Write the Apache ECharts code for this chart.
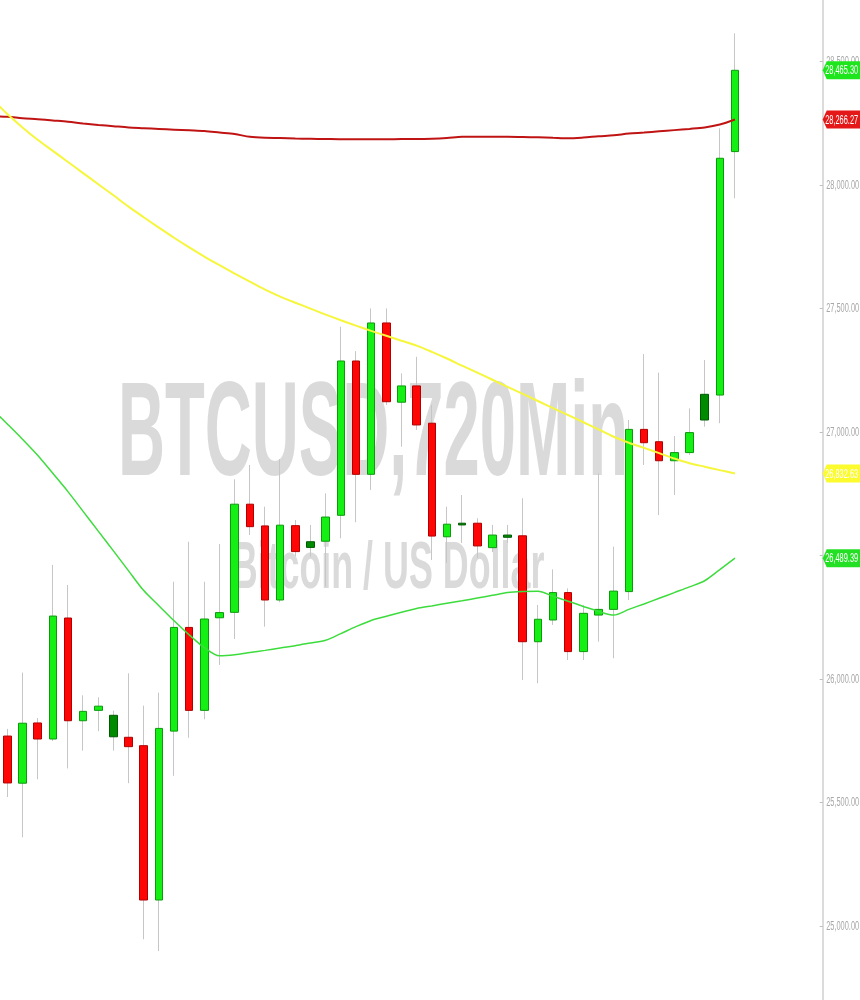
<!DOCTYPE html>
<html><head><meta charset="utf-8">
<script src="https://cdn.jsdelivr.net/npm/echarts@6/dist/echarts.min.js"></script>
<style>html,body{margin:0;padding:0;background:#fff}#c{width:860px;height:1000px}</style>
</head><body><div id="c"></div>
<script>
// ---- data (720-minute BTCUSD candles, left to right) ----
const opens  = [25769, 25578, 25822, 25757, 26247, 25831, 25873, 25853, 25764, 25730,
  25105, 25789, 26209, 25873, 26248, 26270, 26708, 26620, 26320, 26621,
  26533, 26558, 26663, 27288, 26829, 27442, 27121, 27187, 27036, 26576,
  26624, 26631, 26532, 26574, 26580, 26151, 26239, 26350, 26111, 26259,
  26282, 26354, 27011, 26961, 26884, 26917, 27049, 27150, 28136];
const closes = [25579, 25821, 25757, 26255, 25831, 25869, 25890, 25766, 25726, 25105,
  25800, 26209, 25873, 26243, 26269, 26708, 26617, 26320, 26623, 26516,
  26556, 26656, 27288, 26829, 27442, 27123, 27187, 27029, 26579, 26627,
  26631, 26539, 26583, 26583, 26151, 26242, 26350, 26111, 26266, 26282,
  26356, 27011, 26957, 26884, 26917, 26998, 27153, 28109, 28465.30];
const lows   = [25522, 25359, 25594, 25749, 25638, 25710, 25789, 25710, 25578, 24946,
  24898, 25608, 25762, 25837, 26057, 26162, 26583, 26212, 26311, 26498,
  26495, 26374, 26570, 26635, 26766, 27110, 26941, 27009, 26482, 26470,
  26551, 26490, 26514, 26551, 25996, 25983, 26219, 26077, 26077, 26151,
  26084, 26320, 26867, 26664, 26745, 26907, 27022, 27036, 27947];
const highs  = [25798, 26026, 25842, 26462, 26381, 25934, 25926, 25872, 26023, 25892,
  25945, 26394, 26556, 26394, 26547, 26809, 26867, 26698, 26891, 26644,
  26624, 26752, 27427, 27328, 27501, 27501, 27238, 27305, 27110, 26698,
  26745, 26651, 26624, 26624, 26732, 26300, 26444, 26367, 26300, 26833,
  26536, 27049, 27316, 27241, 26984, 27096, 27292, 28230, 28615];
// candles drawn in the darker shade
const darkCandles = [7, 20, 30, 33, 46];
// moving averages: first value belongs to the bar just left of the view
const maRed = [28279, 28277, 28271, 28267, 28262, 28257, 28250, 28244, 28239, 28234,
  28231, 28228, 28225, 28222, 28219, 28213, 28207, 28196, 28192, 28191,
  28189, 28188, 28187, 28186, 28186, 28186, 28186, 28187, 28187, 28188,
  28191, 28196, 28196, 28196, 28196, 28195, 28194, 28192, 28190, 28193,
  28198, 28202, 28209, 28213, 28218, 28223, 28228, 28234, 28246, 28266.27];
const maYellow = [28349, 28288, 28234, 28184, 28139, 28094, 28049, 28004, 27959, 27913,
  27870, 27828, 27787, 27748, 27711, 27676, 27642, 27609, 27577, 27549,
  27524, 27500, 27476, 27453, 27431, 27410, 27390, 27370, 27350, 27325,
  27298, 27269, 27241, 27212, 27183, 27155, 27126, 27097, 27069, 27040,
  27011, 26981, 26957, 26936, 26915, 26893, 26874, 26860, 26846, 26832.63];
const maGreen = [27094, 27033, 26971, 26906, 26833, 26759, 26679, 26599, 26519, 26438,
  26358, 26297, 26236, 26179, 26127, 26094, 26098, 26107, 26116, 26126,
  26135, 26146, 26157, 26184, 26212, 26237, 26254, 26270, 26286, 26296,
  26307, 26317, 26328, 26339, 26350, 26354, 26355, 26335, 26315, 26294,
  26274, 26259, 26282, 26304, 26327, 26350, 26373, 26398, 26443, 26489.39];
const yTicks = [25000, 25500, 26000, 26500, 27000, 27500, 28000, 28500];
const badgeValues = [28465.30, 28266.27, 26832.63, 26489.39];
const badgeColors = ['#1de61d', '#e41818', '#fbfb2e', '#24e024'];
const watermarkTitle = 'BTCUSD,720Min';
const watermarkSub = 'Bitcoin / US Dollar';
const EMPTY_AFTER = 5;

// ---- build ----
const nBars = opens.length;
const categories = ['prev'].concat(opens.map((_, i) => 'bar ' + (i + 1)));
for (let i = 0; i < EMPTY_AFTER; i++) categories.push('');
const wickData = ['-'];
const bodyData = ['-'];
for (let i = 0; i < nBars; i++) {
  wickData.push([opens[i], closes[i], lows[i], highs[i]]);
  const lo = Math.min(opens[i], closes[i]), hi = Math.max(opens[i], closes[i]);
  const item = { value: [opens[i], closes[i], lo, hi] };
  if (darkCandles.indexOf(i) >= 0) {
    item.itemStyle = { color: '#008a00', color0: '#a00000', borderColor: '#005a00', borderColor0: '#6a0000' };
  }
  bodyData.push(item);
}

function fmt(v) { return v.toFixed(2).replace(/\B(?=(\d{3})+(?!\d))/g, ','); }
const labelFont = '13px "Liberation Sans", Arial, sans-serif';
const labelScale = 0.57;

const chart = echarts.init(document.getElementById('c'), null, { renderer: 'canvas' });
const slot = 15.16;
const gridLeft = -15.44;
const gridWidth = slot * categories.length;
const axisX = 822.7;
const yOffset = axisX - (gridLeft + gridWidth);

chart.setOption({
  backgroundColor: '#ffffff',
  animation: false,
  grid: { left: gridLeft, width: gridWidth, top: 0, bottom: 0, containLabel: false, outerBoundsMode: 'none' },
  xAxis: { type: 'category', data: categories, boundaryGap: true, show: false },
  yAxis: { type: 'value', position: 'right', offset: yOffset, min: 24700, max: 28750, scale: true,
    splitLine: { show: false },
    axisLine: { show: true, lineStyle: { color: '#cfcfcf', width: 1.5 } },
    axisTick: { show: true, inside: true, length: 3, customValues: yTicks, lineStyle: { color: '#bdbdbd' } },
    axisLabel: { show: false } },
  series: [
    { type: 'candlestick', name: 'wicks', data: wickData, barWidth: 1, z: 2,
      itemStyle: { color: '#c6c6c6', color0: '#c6c6c6', borderColor: '#c6c6c6', borderColor0: '#c6c6c6', borderWidth: 1 } },
    { type: 'candlestick', name: 'BTCUSD', data: bodyData, barWidth: 8, z: 3,
      itemStyle: { color: '#14f014', color0: '#ff0606', borderColor: '#0c9a0c', borderColor0: '#b00000', borderWidth: 1 } },
    { type: 'line', name: 'MA red', data: maRed, showSymbol: false, smooth: 0.3, z: 4,
      lineStyle: { color: '#c01414', width: 2 } },
    { type: 'line', name: 'MA yellow', data: maYellow, showSymbol: false, smooth: 0.3, z: 4,
      lineStyle: { color: '#f6f63c', width: 2 } },
    { type: 'line', name: 'MA green', data: maGreen, showSymbol: false, smooth: 0.3, z: 4,
      lineStyle: { color: '#3ddc3d', width: 1.5 } }
  ]
});

// ---- watermark, tick labels and last-value badges (positions from the y axis scale) ----
const yPix = v => chart.convertToPixel({ yAxisIndex: 0 }, v);
const graphics = [
  { type: 'text', x: 373, y: 438, scaleX: 0.486, z: 0, silent: true,
    style: { text: watermarkTitle, font: 'bold 134px "Liberation Sans", Arial, sans-serif',
      fill: '#dadada', textAlign: 'center', textVerticalAlign: 'middle' } },
  { type: 'text', x: 388, y: 570, scaleX: 0.535, z: 0, silent: true,
    style: { text: watermarkSub, font: 'bold 67px "Liberation Sans", Arial, sans-serif',
      fill: '#dadada', textAlign: 'center', textVerticalAlign: 'middle' } }
];
yTicks.forEach(v => {
  graphics.push({ type: 'text', x: axisX + 3.5, y: yPix(v), scaleX: labelScale, z: 50, silent: true,
    style: { text: fmt(v), font: labelFont, fill: '#a8a8a8', textAlign: 'left', textVerticalAlign: 'middle' } });
});
badgeValues.forEach((v, i) => {
  const cy = yPix(v), h = 9;
  graphics.push({ type: 'polygon', z: 60, silent: true,
    shape: { points: [[axisX, cy], [axisX + 4, cy - h], [860, cy - h], [860, cy + h], [axisX + 4, cy + h]] },
    style: { fill: badgeColors[i] } });
  graphics.push({ type: 'text', x: axisX + 2.5, y: cy + 0.5, scaleX: labelScale, z: 61, silent: true,
    style: { text: fmt(v), font: labelFont, fill: '#ffffff', textAlign: 'left', textVerticalAlign: 'middle' } });
});
chart.setOption({ graphic: graphics });
</script>
</body></html>
